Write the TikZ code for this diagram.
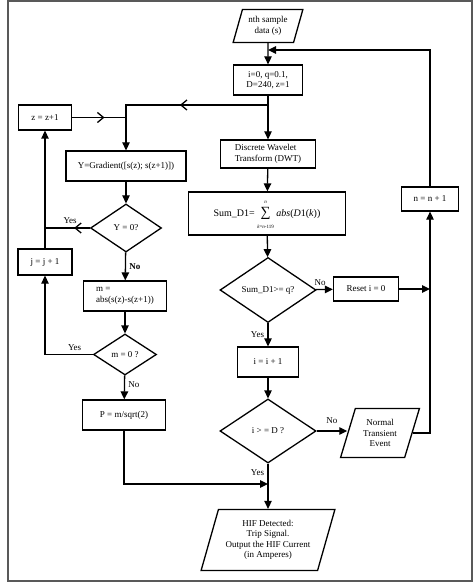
\documentclass[tikz,border=0pt]{standalone}
\usepackage{fontspec}
\setmainfont{Liberation Serif}
\usetikzlibrary{shapes.geometric,arrows.meta,decorations.markings}
\begin{document}
\begin{tikzpicture}[x=1pt,y=-1pt,line width=1.3pt,
        every node/.style={font=\fontsize{9}{10.5}\selectfont},
        box/.style={draw,rectangle,inner sep=1pt,align=center},
        dec/.style={draw,diamond,inner sep=0pt,align=center},
        para/.style={draw,trapezium,trapezium left angle=70,trapezium right angle=110,trapezium stretches=true,inner sep=1pt,align=center},
        arr/.style={-{Triangle[width=7.5pt,length=8pt]}},
        midopen/.style={postaction={decorate},decoration={markings,mark=at position #1 with {\arrow{Straight Barb[length=6pt,width=10pt]}}}}]
    \useasboundingbox (0,0) rectangle (474,588);
    \draw[line width=2pt,gray!70!black] (8,1.5) rectangle (472,581);
    \node[para,minimum width=70pt,minimum height=33pt] (start) at (268,26) {nth sample\\data (s)};
    \node[box,minimum width=69pt,minimum height=30pt] (init) at (268,80) {i=0, q=0.1,\\D=240, z=1};
    \node[box,minimum width=95pt,minimum height=28pt,align=left] (dwt) at (268,154) {Discrete Wavelet\\Transform (DWT)};
    \node[box,minimum width=157pt,minimum height=43pt,font=\fontsize{10}{12}\selectfont] (sum) at (267,213.5) {Sum\_D1= \begin{tabular}[c]{@{}c@{}}{\fontsize{5}{6}\selectfont\textit{n}}\\[0pt]{\fontsize{14}{14}\selectfont ∑}\\[0pt]{\fontsize{5}{6}\selectfont\textit{k}=\textit{n}-119}\end{tabular} \textit{abs}(\textit{D}1(\textit{k}))};
    \node[dec,minimum width=96pt,minimum height=65pt] (chk) at (268,290) {Sum\_D1>= q?};
    \node[box,minimum width=65pt,minimum height=24pt] (reset) at (366,289) {Reset i = 0};
    \node[box,minimum width=61pt,minimum height=30pt] (inc) at (268,362) {i = i + 1};
    \node[dec,minimum width=96pt,minimum height=64pt] (chkd) at (268,431) {i > = D ?};
    \node[para,minimum width=79pt,minimum height=49pt] (normal) at (380,433) {Normal\\Transient\\Event};
    \node[para,minimum width=134pt,minimum height=61pt] (hif) at (268,540) {HIF Detected:\\Trip Signal.\\Output the HIF Current\\(in Amperes)};
    \node[box,minimum width=57pt,minimum height=24pt] (nn) at (430,199) {n = n + 1};
    \node[box,minimum width=53pt,minimum height=25pt] (zinc) at (45,117.5) {z = z+1};
    \node[box,minimum width=120pt,minimum height=30pt] (grad) at (126,166) {Y=Gradient([s(z); s(z+1)])};
    \node[dec,minimum width=71pt,minimum height=48pt] (yz) at (126,228) {Y = 0?};
    \node[box,minimum width=54pt,minimum height=26pt] (jinc) at (45,262) {j = j + 1};
    \node[box,minimum width=83pt,minimum height=30pt,align=left] (mval) at (125,296) {m =\\abs(s(z)-s(z+1))};
    \node[dec,minimum width=63pt,minimum height=41pt] (mz) at (125,354.5) {m = 0 ?};
    \node[box,minimum width=83pt,minimum height=30pt] (pval) at (124,415) {P = m/sqrt(2)};
    \coordinate (mrg) at (268,50);
    \coordinate (br) at (268,105);
    \coordinate (pj) at (268,484);
    \draw[arr] (start) -- (init);
    \draw[arr] (nn) |- (mrg);
    \draw[arr] (init) -- (dwt);
    \draw[arr,midopen=0.47] (br) -| (grad);
    \draw[midopen=0.6] (zinc) -- (zinc -| grad);
    \draw[arr] (dwt) -- (sum);
    \draw[arr] (sum) -- (chk);
    \draw[arr] (chk) -- node[above,pos=0.25]{No} (reset);
    \draw[arr] (reset) -- (reset -| nn);
    \draw[arr] (chk) -- node[left,pos=0.5]{Yes} (inc);
    \draw[arr] (inc) -- (chkd);
    \draw[arr] (chkd) -- node[above=3pt,pos=0.5]{No} (chkd -| normal.west);
    \draw[arr] (normal.east) -| (nn);
    \draw[arr] (chkd) -- node[left,pos=0.2]{Yes} (hif);
    \draw[arr] (pval) |- (pj);
    \draw[arr] (grad) -- (yz);
    \draw[arr] (yz) -- node[right,pos=0.5,font=\fontsize{9}{10.5}\selectfont\bfseries]{No} (mval);
    \draw[midopen=0.35] (yz) -- node[above,pos=0.44]{Yes} (yz -| jinc);
    \draw[arr] (jinc) -- (zinc);
    \draw[arr] (mval) -- (mz);
    \draw[arr] (mz) -| node[above,pos=0.19]{Yes} (jinc);
    \draw[arr] (mz) -- node[right,pos=0.4]{No} (pval);
\end{tikzpicture}
\end{document}
